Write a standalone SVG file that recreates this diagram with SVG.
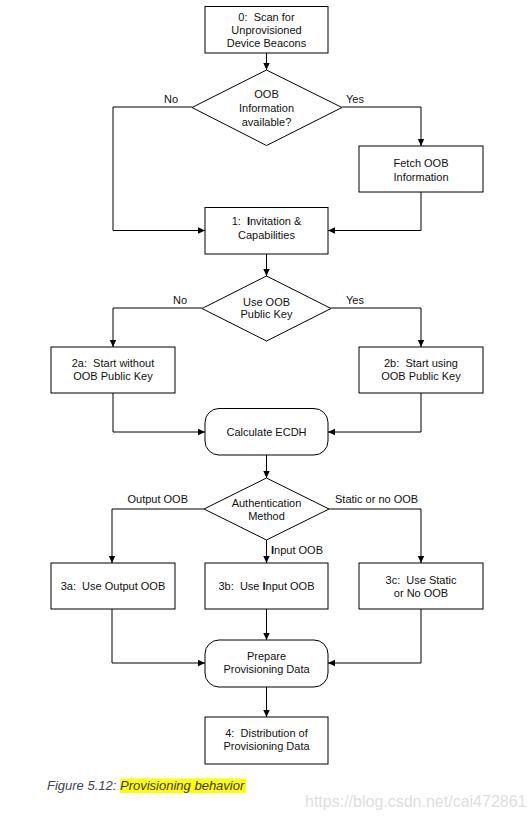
<svg xmlns="http://www.w3.org/2000/svg" width="532" height="819" viewBox="0 0 532 819">
<defs>
<marker id="arr" markerWidth="8" markerHeight="8" refX="7" refY="4" orient="auto" markerUnits="userSpaceOnUse">
<path d="M0,0.8 L7,4 L0,7.2 Z" fill="#000"/>
</marker>
<style>
.n{fill:#fff;stroke:#000;stroke-width:1}
.t{font-family:"Liberation Sans",Arial,sans-serif;font-size:11px;fill:#111;text-anchor:middle}
.l{font-family:"Liberation Sans",Arial,sans-serif;font-size:11px;fill:#111}
.c{fill:none;stroke:#000;stroke-width:1;marker-end:url(#arr)}
.b{font-weight:bold}
</style>
</defs>
<rect width="532" height="819" fill="#fff"/>
<g id="connectors">
<path class="c" d="M266.5,53 V70"/>
<path class="c" d="M192,107 H113 V230.5 H205"/>
<path class="c" d="M342,107 H421 V146"/>
<path class="c" d="M421,192 V230.5 H328"/>
<path class="c" d="M266.5,254 V276"/>
<path class="c" d="M202,308 H113 V347"/>
<path class="c" d="M331,308 H421 V347"/>
<path class="c" d="M113,393 V432 H205"/>
<path class="c" d="M421,393 V432 H328"/>
<path class="c" d="M266.5,455 V478"/>
<path class="c" d="M204,509 H112 V563"/>
<path class="c" d="M329,509 H421 V563"/>
<path class="c" d="M266.5,540 V563"/>
<path class="c" d="M112,609 V663 H205"/>
<path class="c" d="M421,609 V663 H328"/>
<path class="c" d="M266.5,609 V640"/>
<path class="c" d="M266.5,687 V717"/>
<text class="l" x="178" y="103" text-anchor="end">No</text>
<text class="l" x="346" y="103">Yes</text>
<text class="l" x="187" y="304" text-anchor="end">No</text>
<text class="l" x="346" y="304">Yes</text>
<text class="l" x="188" y="503" text-anchor="end">Output OOB</text>
<text class="l" x="335" y="503">Static or no OOB</text>
<text class="l" x="271" y="554"><tspan class="b">I</tspan>nput OOB</text>
</g>
<g id="n0">
<rect class="n" x="205" y="6.5" width="123" height="46.5"/>
<text class="t" x="266.5" y="21">0:&#160; Scan for</text>
<text class="t" x="266.5" y="34">Unprovisioned</text>
<text class="t" x="266.5" y="47">Device Beacons</text>
</g>
<g id="d1">
<polygon class="n" points="266.5,70 342,107.5 266.5,145.5 192,107.5"/>
<text class="t" x="266.5" y="98">OOB</text>
<text class="t" x="266.5" y="112">Information</text>
<text class="t" x="266.5" y="126">available?</text>
</g>
<g id="fetch">
<rect class="n" x="359" y="146" width="124" height="46"/>
<text class="t" x="421" y="167">Fetch OOB</text>
<text class="t" x="421" y="181">Information</text>
</g>
<g id="n1">
<rect class="n" x="205" y="207.5" width="123" height="46.5"/>
<text class="t" x="266.5" y="225">1:&#160; <tspan class="b">I</tspan>nvitation &amp;</text>
<text class="t" x="266.5" y="239">Capabilities</text>
</g>
<g id="d2">
<polygon class="n" points="266.5,276 331,308.5 266.5,341 202,308.5"/>
<text class="t" x="266.5" y="306">Use OOB</text>
<text class="t" x="266.5" y="318">Public Key</text>
</g>
<g id="n2a">
<rect class="n" x="51" y="347" width="124" height="46"/>
<text class="t" x="113" y="367">2a:&#160; Start without</text>
<text class="t" x="113" y="380">OOB Public Key</text>
</g>
<g id="n2b">
<rect class="n" x="359" y="347" width="124" height="46"/>
<text class="t" x="421" y="367">2b:&#160; Start using</text>
<text class="t" x="421" y="380">OOB Public Key</text>
</g>
<g id="ecdh">
<rect class="n" x="205" y="408.5" width="123" height="46.5" rx="14" ry="14"/>
<text class="t" x="266.5" y="436">Calculate ECDH</text>
</g>
<g id="d3">
<polygon class="n" points="266.5,478 329,509 266.5,540 204,509"/>
<text class="t" x="266.5" y="507">Authentication</text>
<text class="t" x="266.5" y="520">Method</text>
</g>
<g id="n3a">
<rect class="n" x="51" y="563" width="124" height="46"/>
<text class="t" x="113" y="590">3a:&#160; Use Output OOB</text>
</g>
<g id="n3b">
<rect class="n" x="205" y="563" width="123" height="46"/>
<text class="t" x="266.5" y="590">3b:&#160; Use <tspan class="b">I</tspan>nput OOB</text>
</g>
<g id="n3c">
<rect class="n" x="359" y="563" width="124" height="46"/>
<text class="t" x="421" y="584">3c:&#160; Use Static</text>
<text class="t" x="421" y="597">or No OOB</text>
</g>
<g id="prep">
<rect class="n" x="205" y="640" width="123" height="47" rx="14" ry="14"/>
<text class="t" x="266.5" y="660">Prepare</text>
<text class="t" x="266.5" y="673">Provisioning Data</text>
</g>
<g id="n4">
<rect class="n" x="205" y="717" width="123" height="47"/>
<text class="t" x="266.5" y="737">4:&#160; Distribution of</text>
<text class="t" x="266.5" y="750">Provisioning Data</text>
</g>
<g id="caption">
<rect x="120" y="778.5" width="126" height="14.5" fill="#ffff00"/>
<text x="47" y="790" font-family="'Liberation Sans',Arial,sans-serif" font-size="13" font-style="italic" fill="#3c4250">Figure 5.12: <tspan fill="#333">Provisioning behavior</tspan></text>
<text x="305" y="807" font-family="'Liberation Sans',Arial,sans-serif" font-size="16" fill="#dedede">https://blog.csdn.net/cai472861</text>
</g>
</svg>
